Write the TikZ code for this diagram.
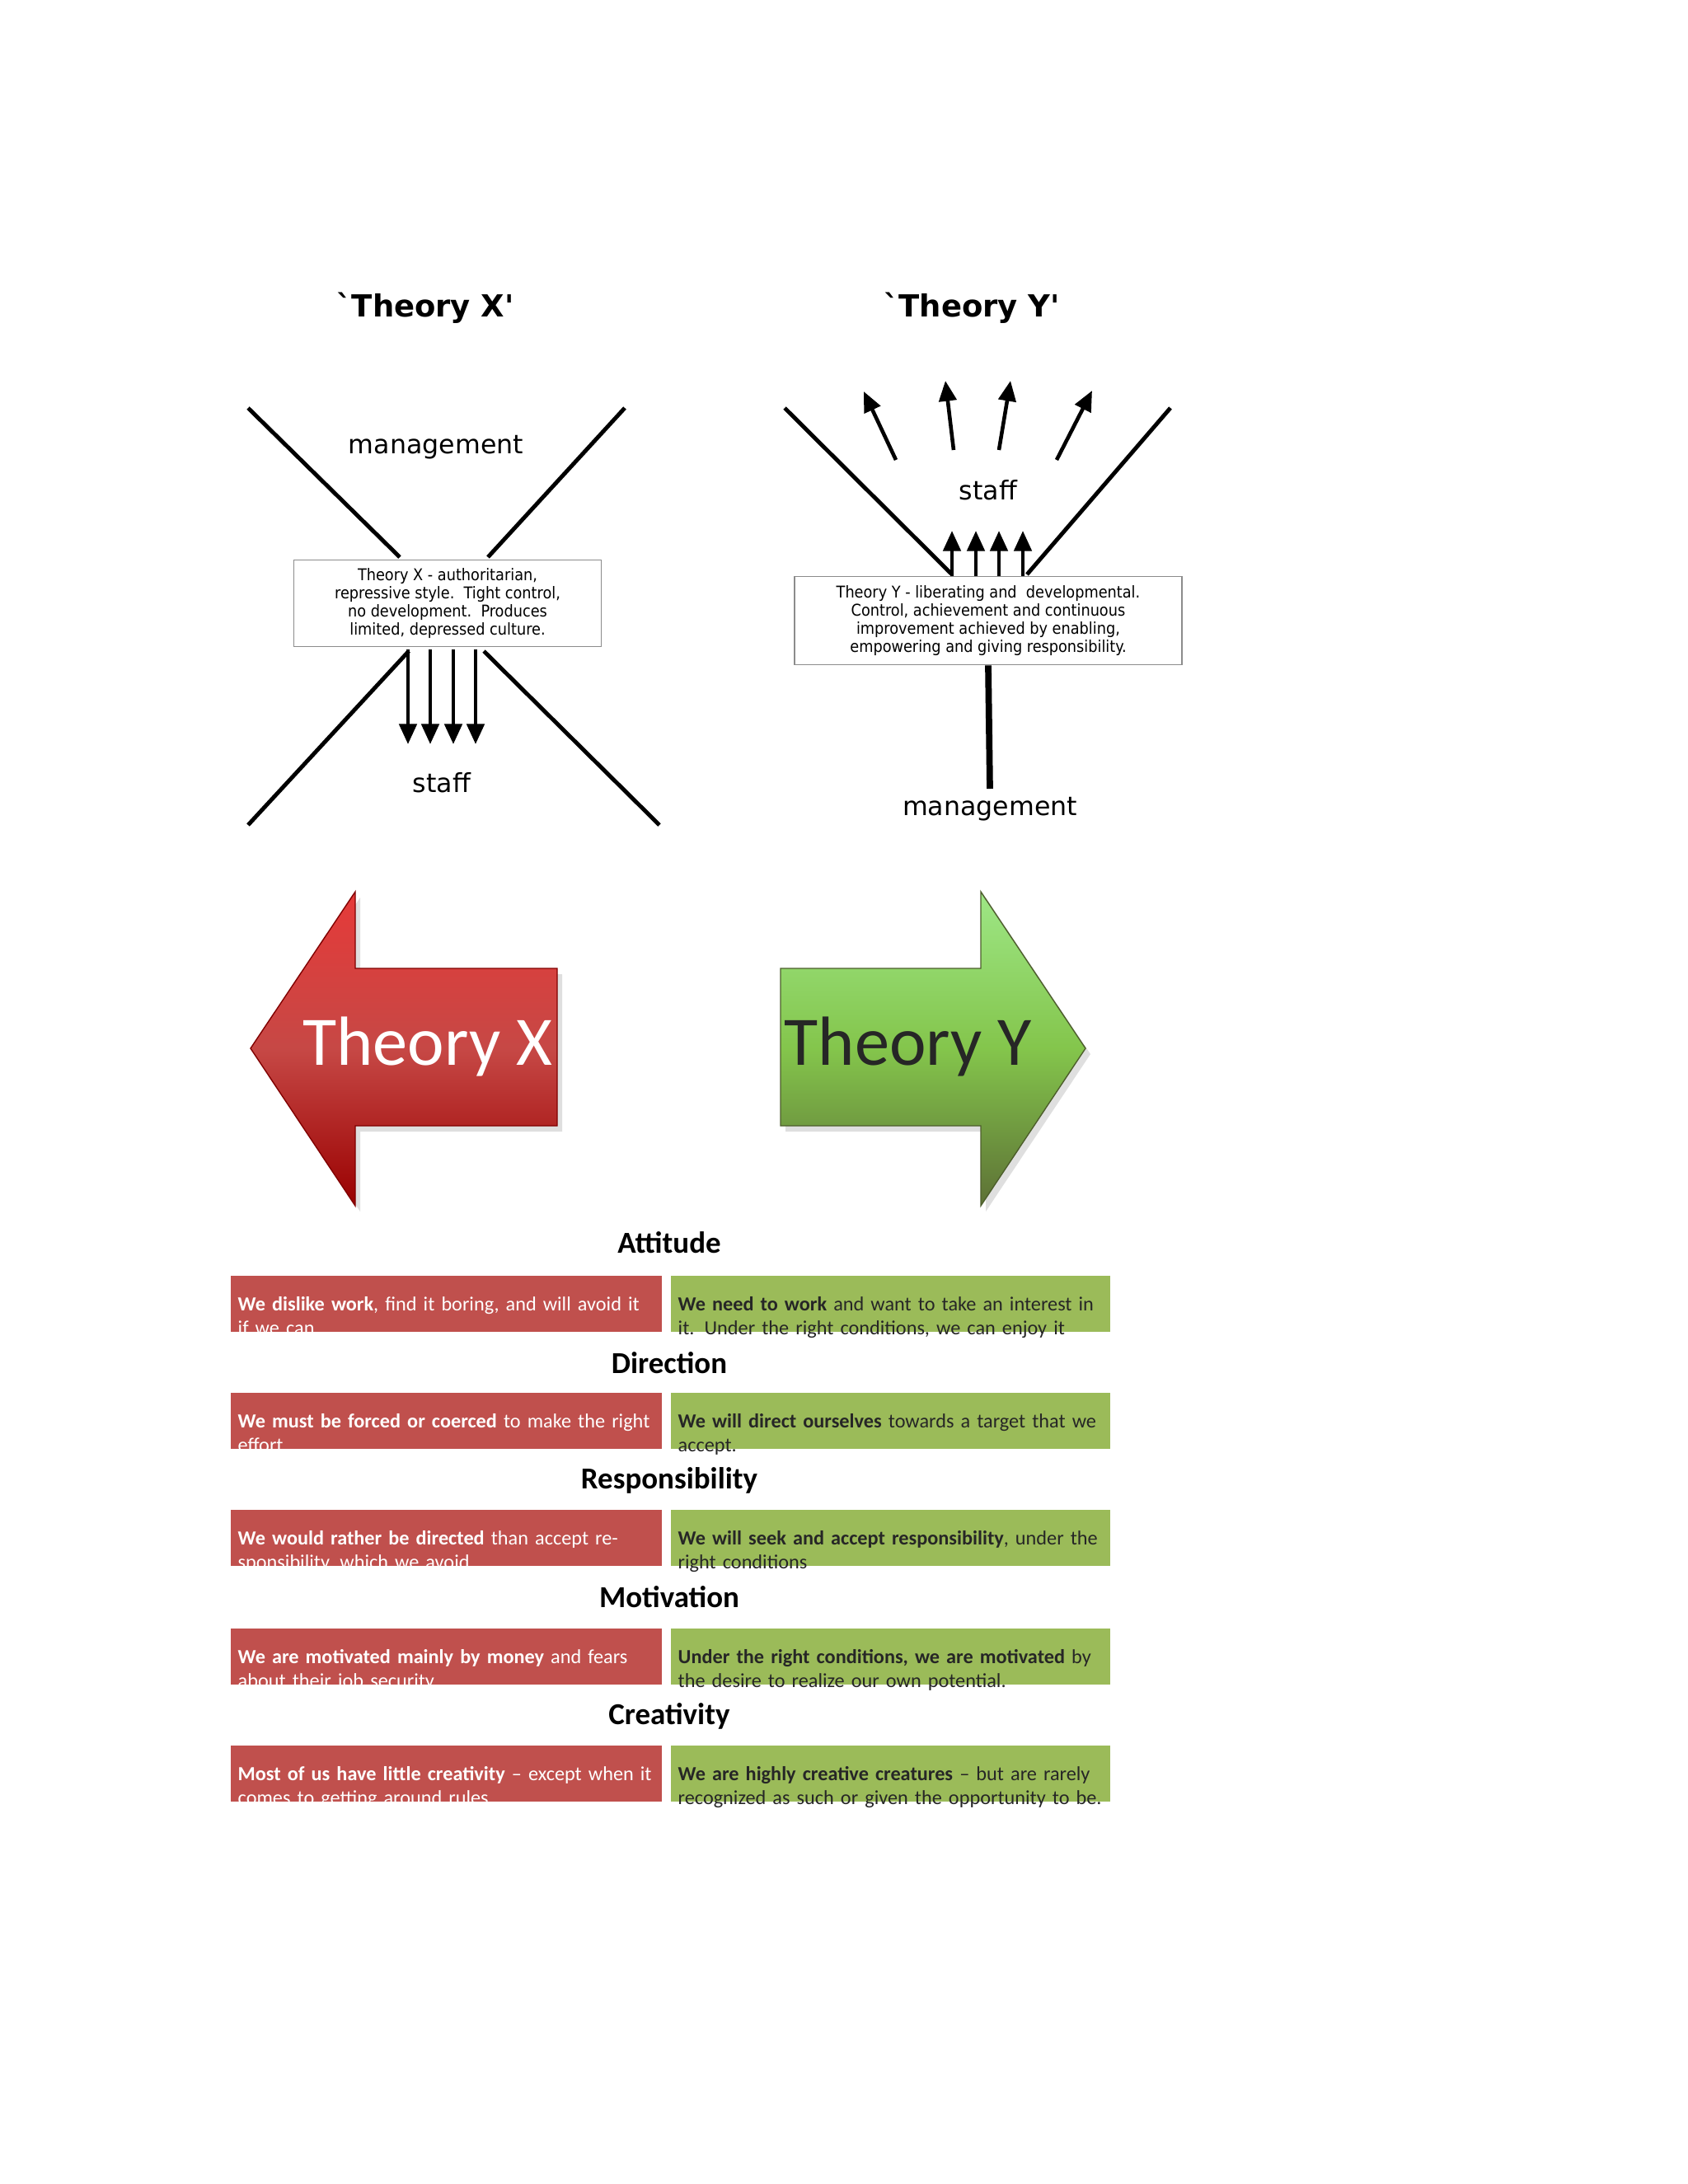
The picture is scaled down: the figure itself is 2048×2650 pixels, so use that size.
\documentclass[tikz,border=0pt]{standalone}
\usepackage{fontspec}
\setmainfont{Carlito}
\newfontfamily\verd{DejaVu Sans}
\newfontfamily\verdc{DejaVu Sans Condensed}
\usetikzlibrary{arrows.meta,shadows}
\definecolor{cred}{HTML}{C0504D}
\definecolor{cgreen}{HTML}{9BBB59}
\tikzset{
 ln/.style={line width=1.4pt},
 ar/.style={line width=1.3pt,-{Triangle[length=7pt,width=6pt]}},
 tbox/.style={draw=black!45,line width=0.5pt,fill=white,align=center,font=\verdc\fontsize{5.6}{6.3}\selectfont,inner sep=0pt},
 lab/.style={font=\verd\fontsize{9}{10}\selectfont},
 ttl/.style={font=\verd\bfseries\fontsize{10.5}{12}\selectfont},
 head/.style={font=\bfseries\fontsize{10.5}{12}\selectfont},
 cellr/.style={fill=cred,text=white,anchor=north west,minimum width=5.23cm,minimum height=0.68cm,text width=5.05cm,align=left,inner sep=0pt,inner xsep=0.09cm,text depth=0pt,font=\fontsize{6.9}{8.4}\selectfont},
 cellg/.style={cellr,fill=cgreen,text=black!85,minimum width=5.33cm,text width=5.15cm},
}
\begin{document}
\begin{tikzpicture}[x=0.01cm,y=-0.01cm]
\useasboundingbox (0,0) rectangle (2048,2650);
% Titles
\node[ttl] (tx) at (516,374) {`Theory X'};
\node[ttl] (ty) at (1179,374) {`Theory Y'};
% Theory X diagram
\draw[ln] (301,495) -- (485,676);
\draw[ln] (758,495) -- (592,676);
\draw[ln] (496,790) -- (301,1001);
\draw[ln] (587,790) -- (800,1001);
\node[tbox,minimum width=3.73cm,minimum height=1.05cm] (bx) at (543,732) {Theory X - authoritarian,\\repressive style.\ \ Tight control,\\no development.\ \ Produces\\limited, depressed culture.};
\node[lab] (mx) at (529,543) {management};
\node[lab] (sx) at (536,950) {staff};
\foreach \x in {495,522,550,577} \draw[ar] (\x,788) -- (\x,903);
% Theory Y diagram
\draw[ln] (952,495) -- (1155,697);
\draw[ln] (1420,495) -- (1246,697);
\foreach \x in {1155,1184,1212,1241} \draw[ar] (\x,700) -- (\x,644);
\draw[ar] (1087,558) -- (1048,475);
\draw[ar] (1157,546) -- (1147,462);
\draw[ar] (1212,546) -- (1226,462);
\draw[ar] (1282,558) -- (1325,474);
\node[lab] (sy) at (1199,595) {staff};
\node[tbox,minimum width=4.70cm,minimum height=1.07cm] (by) at (1199,753) {Theory Y - liberating and\ \ developmental.\\Control, achievement and continuous\\improvement achieved by enabling,\\empowering and giving responsibility.};
\coordinate (my) at (1201,957);
\draw[line width=2.2pt] (by.south) -- (my);
\node[lab] (mgy) at (1201,982) {management};
% Big arrows
\fill[black!25,opacity=0.5] (310,1279) -- (437,1089) -- (437,1182) -- (682,1182) -- (682,1373) -- (437,1373) -- (437,1470) -- cycle;
\shade[top color=red!55!cred!90!white,bottom color=red!60!black,middle color=cred!90!red,draw=red!50!black,line width=0.4pt]
 (304,1272) -- (431,1082) -- (431,1175) -- (676,1175) -- (676,1366) -- (431,1366) -- (431,1463) -- cycle;
\node[text=white,font=\fontsize{24}{28}\selectfont] (lx) at (519,1270) {Theory X};
\fill[black!25,opacity=0.5] (953,1182) -- (1196,1182) -- (1196,1089) -- (1323,1279) -- (1196,1470) -- (1196,1373) -- (953,1373) -- cycle;
\shade[top color=cgreen!60!green!60!white,bottom color=cgreen!60!black,middle color=cgreen!85!green,draw=cgreen!50!black,line width=0.4pt]
 (947,1175) -- (1190,1175) -- (1190,1082) -- (1317,1272) -- (1190,1463) -- (1190,1366) -- (947,1366) -- cycle;
\node[text=black!85,font=\fontsize{24}{28}\selectfont] (ly) at (1102,1270) {Theory Y};
% Table
\node[head] (h1) at (812,1508) {Attitude};
\node[cellr] (r1) at (279,1547) {\textbf{We dislike work}, find it boring, and will avoid it if we can.};
\node[cellg] (g1) at (813,1547) {\textbf{We need to work} and want to take an interest in it. Under the right conditions, we can enjoy it};
\node[head] (h2) at (812,1654) {Direction};
\node[cellr] (r2) at (279,1689) {\textbf{We must be forced or coerced} to make the right effort.};
\node[cellg] (g2) at (813,1689) {\textbf{We will direct ourselves} towards a target that we accept.};
\node[head] (h3) at (812,1796) {Responsibility};
\node[cellr] (r3) at (279,1831) {\textbf{We would rather be directed} than accept responsibility, which we avoid.};
\node[cellg] (g3) at (813,1831) {\textbf{We will seek and accept responsibility}, under the right conditions};
\node[head] (h4) at (812,1938) {Motivation};
\node[cellr] (r4) at (279,1975) {\textbf{We are motivated mainly by money} and fears about their job security.};
\node[cellg] (g4) at (813,1975) {\textbf{Under the right conditions, we are motivated} by the desire to realize our own potential.};
\node[head] (h5) at (812,2082) {Creativity};
\node[cellr] (r5) at (279,2117) {\textbf{Most of us have little creativity} -- except when it comes to getting around rules.};
\node[cellg] (g5) at (813,2117) {\textbf{We are highly creative creatures} -- but are rarely recognized as such or given the opportunity to be.};
\end{tikzpicture}
\end{document}
